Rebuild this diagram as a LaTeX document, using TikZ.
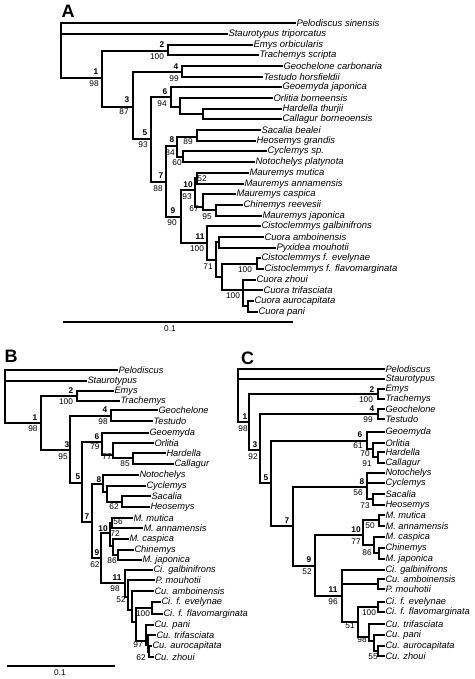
\documentclass[tikz,border=0pt]{standalone}
\usepackage{fontspec}
\setmainfont{Liberation Sans}
\begin{document}
\begin{tikzpicture}[x=1pt,y=-1pt,
  br/.style={line width=2pt,line cap=rect},
  tipa/.style={anchor=west,inner sep=1.3pt,font=\fontsize{9.5}{10}\selectfont\itshape},
  tipb/.style={anchor=west,inner sep=1.3pt,font=\fontsize{9.3}{10}\selectfont\itshape},
  bs/.style={inner sep=0pt,font=\fontsize{8.3}{9}\selectfont},
  nn/.style={inner sep=0pt,font=\fontsize{8.3}{9}\selectfont\bfseries},
  panel/.style={inner sep=0pt,font=\fontsize{18}{19}\selectfont\bfseries},
  sbar/.style={line width=1.5pt}]
\useasboundingbox (0,0) rectangle (474,679);

% ================= Panel A =================
\node[panel] (labA) at (68,11) {A};
\coordinate (rA) at (61,23.5);
\coordinate (n1A) at (102,78);
\coordinate (n2A) at (168,51);
\coordinate (n3A) at (133,107);
\coordinate (n4A) at (182,72);
\coordinate (n5A) at (151,139);
\coordinate (n6A) at (171,97);
\coordinate (n6bA) at (180,107);
\coordinate (n6cA) at (203,114);
\coordinate (n7A) at (166,182);
\coordinate (n8A) at (177,146);
\coordinate (n8aA) at (197,137);
\coordinate (n8bA) at (183,157);
\coordinate (n9A) at (181,217);
\coordinate (n10A) at (195,190);
\coordinate (n10aA) at (197,178);
\coordinate (n10bA) at (203,207);
\coordinate (n10cA) at (216,210);
\coordinate (n11A) at (207,243);
\coordinate (n11aA) at (216,260);
\coordinate (n11bA) at (219,242);
\coordinate (n11cA) at (222,277);
\coordinate (n11dA) at (257,263.5);
\coordinate (n11eA) at (243,290.3);
\coordinate (n11fA) at (248,306);

\node[tipa] (pelA) at (295,23.5) {Pelodiscus sinensis};
\node[tipa] (stauA) at (227,34.2) {Staurotypus triporcatus};
\node[tipa] (emysA) at (252,44.8) {Emys orbicularis};
\node[tipa] (trachA) at (258,55.5) {Trachemys scripta};
\node[tipa] (geochA) at (282,66.2) {Geochelone carbonaria};
\node[tipa] (testA) at (262,76.9) {Testudo horsfieldii};
\node[tipa] (geoemA) at (281,87.5) {Geoemyda japonica};
\node[tipa] (orlA) at (272,98.2) {Orlitia borneensis};
\node[tipa] (hardA) at (281,108.9) {Hardella thurjii};
\node[tipa] (callA) at (281,119.5) {Callagur borneoensis};
\node[tipa] (sacA) at (260,130.2) {Sacalia bealei};
\node[tipa] (heosA) at (255,140.9) {Heosemys grandis};
\node[tipa] (cycA) at (266,151.5) {Cyclemys sp.};
\node[tipa] (notoA) at (254,162.2) {Notochelys platynota};
\node[tipa] (mutA) at (248,172.9) {Mauremys mutica};
\node[tipa] (annA) at (243,183.6) {Mauremys annamensis};
\node[tipa] (caspA) at (235,194.2) {Mauremys caspica};
\node[tipa] (chinA) at (242,204.9) {Chinemys reevesii};
\node[tipa] (japA) at (261,215.6) {Mauremys japonica};
\node[tipa] (galbA) at (260,226.2) {Cistoclemmys galbinifrons};
\node[tipa] (ambA) at (263,236.9) {Cuora amboinensis};
\node[tipa] (pyxA) at (275,247.6) {Pyxidea mouhotii};
\node[tipa] (eveA) at (260,258.2) {Cistoclemmys f. evelynae};
\node[tipa] (flavA) at (263,268.9) {Cistoclemmys f. flavomarginata};
\node[tipa] (zhouA) at (255,279.6) {Cuora zhoui};
\node[tipa] (trifA) at (262,290.3) {Cuora trifasciata};
\node[tipa] (aurA) at (253,300.9) {Cuora aurocapitata};
\node[tipa] (paniA) at (257,311.6) {Cuora pani};

\foreach \pa/\ch in {rA/pelA.west, rA/stauA.west, rA/n1A, n1A/n2A, n2A/emysA.west, n2A/trachA.west,
  n1A/n3A, n3A/n4A, n4A/geochA.west, n4A/testA.west, n3A/n5A, n5A/n6A, n6A/geoemA.west, n6A/n6bA,
  n6bA/orlA.west, n6bA/n6cA, n6cA/hardA.west, n6cA/callA.west, n5A/n7A, n7A/n8A, n8A/n8aA,
  n8aA/sacA.west, n8aA/heosA.west, n8A/n8bA, n8bA/cycA.west, n8bA/notoA.west, n7A/n9A, n9A/n10A,
  n10A/n10aA, n10aA/mutA.west, n10aA/annA.west, n10A/n10bA, n10bA/caspA.west, n10bA/n10cA,
  n10cA/chinA.west, n10cA/japA.west, n9A/n11A, n11A/galbA.west, n11A/n11aA, n11aA/n11bA,
  n11bA/ambA.west, n11bA/pyxA.west, n11aA/n11cA, n11cA/n11dA, n11dA/eveA.west, n11dA/flavA.west,
  n11cA/n11eA, n11eA/zhouA.west, n11eA/trifA.west, n11eA/n11fA, n11fA/aurA.west, n11fA/paniA.west}
  \draw[br] (\pa) |- (\ch);

\node[nn] (kA1) at (96,72) {1};
\node[nn] (kA2) at (162,45) {2};
\node[nn] (kA3) at (127,100) {3};
\node[nn] (kA4) at (176,67) {4};
\node[nn] (kA5) at (145,133) {5};
\node[nn] (kA6) at (165,92) {6};
\node[nn] (kA7) at (161,176) {7};
\node[nn] (kA8) at (172,140) {8};
\node[nn] (kA9) at (173,211) {9};
\node[nn] (kA10) at (188,185) {10};
\node[nn] (kA11) at (200,237) {11};
\node[bs] (bA1) at (94,84) {98};
\node[bs] (bA2) at (157,57) {100};
\node[bs] (bA3) at (124,112) {87};
\node[bs] (bA4) at (174,79) {99};
\node[bs] (bA5) at (143,145) {93};
\node[bs] (bA6) at (162,104) {94};
\node[bs] (bA7) at (158,189) {88};
\node[bs] (bA8a) at (188,142) {89};
\node[bs] (bA8) at (170,153) {84};
\node[bs] (bA8b) at (177,163) {60};
\node[bs] (bA9) at (172,223) {90};
\node[bs] (bA10) at (187,197) {93};
\node[bs] (bA10a) at (202,179) {52};
\node[bs] (bA10b) at (194,209) {67};
\node[bs] (bA10c) at (207,217) {95};
\node[bs] (bA11) at (197,249) {100};
\node[bs] (bA11a) at (208,267) {71};
\node[bs] (bA11d) at (245,270) {100};
\node[bs] (bA11e) at (233,296) {100};

\coordinate (sA1) at (63,322);
\coordinate (sA2) at (293,322);
\draw[sbar] (sA1) -- (sA2);
\node[bs] (sAt) at (170,328.5) {0.1};

% ================= Panel B =================
\node[panel] (labB) at (11,356) {B};
\coordinate (rB) at (5,370);
\coordinate (n1B) at (41,423);
\coordinate (n2B) at (77,396);
\coordinate (n3B) at (70,450);
\coordinate (n4B) at (111,416);
\coordinate (n5B) at (82,483);
\coordinate (n6B) at (102,442);
\coordinate (n6bB) at (113,455);
\coordinate (n6cB) at (133,458);
\coordinate (n7B) at (92,522);
\coordinate (n8B) at (103,484);
\coordinate (n8bB) at (107,492);
\coordinate (n8cB) at (122,502);
\coordinate (n9B) at (101,558);
\coordinate (n10B) at (110,533);
\coordinate (n10aB) at (112,523);
\coordinate (n10bB) at (113,546);
\coordinate (n10cB) at (118,555);
\coordinate (n11B) at (125,583);
\coordinate (naB) at (128,597);
\coordinate (nbB) at (132,610);
\coordinate (ncB) at (136,622);
\coordinate (ndB) at (152,608);
\coordinate (neB) at (146,641);
\coordinate (nfB) at (148,645);
\coordinate (ngB) at (149,652);

\node[tipb] (pelB) at (117,370) {Pelodiscus};
\node[tipb] (stauB) at (86,381) {Staurotypus};
\node[tipb] (emysB) at (113,391) {Emys};
\node[tipb] (trachB) at (119,401) {Trachemys};
\node[tipb] (geochB) at (157,410) {Geochelone};
\node[tipb] (testB) at (152,421) {Testudo};
\node[tipb] (geoemB) at (148,433) {Geoemyda};
\node[tipb] (orlB) at (153,443) {Orlitia};
\node[tipb] (hardB) at (165,453) {Hardella};
\node[tipb] (callB) at (173,464) {Callagur};
\node[tipb] (notoB) at (138,475) {Notochelys};
\node[tipb] (cycB) at (145,486) {Cyclemys};
\node[tipb] (sacB) at (150,496) {Sacalia};
\node[tipb] (heosB) at (149,507) {Heosemys};
\node[tipb] (mutB) at (132,518) {M. mutica};
\node[tipb] (annB) at (142,528) {M. annamensis};
\node[tipb] (caspB) at (128,539) {M. caspica};
\node[tipb] (chinB) at (133,550) {Chinemys};
\node[tipb] (japB) at (141,560) {M. japonica};
\node[tipb] (galbB) at (152,570) {Ci. galbinifrons};
\node[tipb] (mouhB) at (154,580) {P. mouhotii};
\node[tipb] (ambB) at (153,591) {Cu. amboinensis};
\node[tipb] (eveB) at (160,602) {Ci. f. evelynae};
\node[tipb] (flavB) at (162,614) {Ci. f. flavomarginata};
\node[tipb] (paniB) at (153,625) {Cu. pani};
\node[tipb] (trifB) at (155,635) {Cu. trifasciata};
\node[tipb] (aurB) at (151,646) {Cu. aurocapitata};
\node[tipb] (zhouB) at (153,657) {Cu. zhoui};

\foreach \pa/\ch in {rB/pelB.west, rB/stauB.west, rB/n1B, n1B/n2B, n2B/emysB.west, n2B/trachB.west,
  n1B/n3B, n3B/n4B, n4B/geochB.west, n4B/testB.west, n3B/n5B, n5B/n6B, n6B/geoemB.west, n6B/n6bB,
  n6bB/orlB.west, n6bB/n6cB, n6cB/hardB.west, n6cB/callB.west, n5B/n7B, n7B/n8B, n8B/notoB.west,
  n8B/n8bB, n8bB/cycB.west, n8bB/n8cB, n8cB/sacB.west, n8cB/heosB.west, n7B/n9B, n9B/n10B,
  n10B/n10aB, n10aB/mutB.west, n10aB/annB.west, n10B/n10bB, n10bB/caspB.west, n10bB/n10cB,
  n10cB/chinB.west, n10cB/japB.west, n9B/n11B, n11B/galbB.west, n11B/naB, naB/mouhB.west, naB/nbB,
  nbB/ambB.west, nbB/ncB, ncB/ndB, ndB/eveB.west, ndB/flavB.west, ncB/neB, neB/paniB.west, neB/nfB,
  nfB/trifB.west, nfB/ngB, ngB/aurB.west, ngB/zhouB.west}
  \draw[br] (\pa) |- (\ch);

\node[nn] (kB1) at (35,418) {1};
\node[nn] (kB2) at (71,391) {2};
\node[nn] (kB3) at (67,445) {3};
\node[nn] (kB4) at (105,410) {4};
\node[nn] (kB5) at (78,477) {5};
\node[nn] (kB6) at (97,437) {6};
\node[nn] (kB7) at (87,517) {7};
\node[nn] (kB8) at (99,480) {8};
\node[nn] (kB9) at (97,553) {9};
\node[nn] (kB10) at (103,529) {10};
\node[nn] (kB11) at (117,578) {11};
\node[bs] (bB1) at (33,429) {98};
\node[bs] (bB2) at (66,402) {100};
\node[bs] (bB3) at (63,457) {95};
\node[bs] (bB4) at (103,422) {98};
\node[bs] (bB6) at (95,447) {79};
\node[bs] (bB6b) at (107,457) {77};
\node[bs] (bB6c) at (125,464) {85};
\node[bs] (bB8c) at (114,507) {62};
\node[bs] (bB10a) at (118,522) {56};
\node[bs] (bB10b) at (115,534) {72};
\node[bs] (bB10c) at (112,561) {86};
\node[bs] (bB9) at (95,565) {62};
\node[bs] (bB11) at (115,589) {98};
\node[bs] (bBa) at (121,600) {52};
\node[bs] (bBd) at (143,614) {100};
\node[bs] (bBe) at (138,645) {97};
\node[bs] (bBg) at (141,658) {62};

\coordinate (sB1) at (7,666);
\coordinate (sB2) at (115,666);
\draw[sbar] (sB1) -- (sB2);
\node[bs] (sBt) at (60,673) {0.1};

% ================= Panel C =================
\node[panel] (labC) at (247.5,358) {C};
\coordinate (rC) at (238,369);
\coordinate (n1C) at (249,422);
\coordinate (n2C) at (378,394);
\coordinate (n3C) at (260,450);
\coordinate (n4C) at (378,414);
\coordinate (n5C) at (271,483);
\coordinate (n6C) at (367,441);
\coordinate (n6bC) at (373,449);
\coordinate (n6cC) at (378,457);
\coordinate (n7C) at (293,526);
\coordinate (n8C) at (367,487);
\coordinate (n8bC) at (373,499);
\coordinate (n9C) at (315,566);
\coordinate (n10C) at (363,535);
\coordinate (n10aC) at (379,520);
\coordinate (n10bC) at (374,545);
\coordinate (n10cC) at (379,553);
\coordinate (n11C) at (342,596);
\coordinate (n11aC) at (378,584);
\coordinate (n11bC) at (358,622);
\coordinate (n11cC) at (378,607);
\coordinate (n11dC) at (369,637);
\coordinate (n11eC) at (374,641);
\coordinate (n11fC) at (378,651);

\node[tipb] (pelC) at (384,369) {Pelodiscus};
\node[tipb] (stauC) at (384,379) {Staurotypus};
\node[tipb] (emysC) at (384,389) {Emys};
\node[tipb] (trachC) at (384,399) {Trachemys};
\node[tipb] (geochC) at (384,409) {Geochelone};
\node[tipb] (testC) at (384,419) {Testudo};
\node[tipb] (geoemC) at (384,432) {Geoemyda};
\node[tipb] (orlC) at (384,443) {Orlitia};
\node[tipb] (hardC) at (384,452) {Hardella};
\node[tipb] (callC) at (384,463) {Callagur};
\node[tipb] (notoC) at (384,473) {Notochelys};
\node[tipb] (cycC) at (384,483) {Cyclemys};
\node[tipb] (sacC) at (384,494) {Sacalia};
\node[tipb] (heosC) at (384,505) {Heosemys};
\node[tipb] (mutC) at (384,515) {M. mutica};
\node[tipb] (annC) at (384,526) {M. annamensis};
\node[tipb] (caspC) at (384,537) {M. caspica};
\node[tipb] (chinC) at (384,548) {Chinemys};
\node[tipb] (japC) at (384,559) {M. japonica};
\node[tipb] (galbC) at (384,570) {Ci. galbinifrons};
\node[tipb] (ambC) at (384,579) {Cu. amboinensis};
\node[tipb] (mouhC) at (384,589) {P. mouhotii};
\node[tipb] (eveC) at (384,602) {Ci. f. evelynae};
\node[tipb] (flavC) at (384,612) {Ci. f. flavomarginata};
\node[tipb] (trifC) at (384,624) {Cu. trifasciata};
\node[tipb] (paniC) at (384,635) {Cu. pani};
\node[tipb] (aurC) at (384,646) {Cu. aurocapitata};
\node[tipb] (zhouC) at (384,656) {Cu. zhoui};

\foreach \pa/\ch in {rC/pelC.west, rC/stauC.west, rC/n1C, n1C/n2C, n2C/emysC.west, n2C/trachC.west,
  n1C/n3C, n3C/n4C, n4C/geochC.west, n4C/testC.west, n3C/n5C, n5C/n6C, n6C/geoemC.west, n6C/n6bC,
  n6bC/orlC.west, n6bC/n6cC, n6cC/hardC.west, n6cC/callC.west, n5C/n7C, n7C/n8C, n8C/notoC.west,
  n8C/cycC.west, n8C/n8bC, n8bC/sacC.west, n8bC/heosC.west, n7C/n9C, n9C/n10C, n10C/n10aC,
  n10aC/mutC.west, n10aC/annC.west, n10C/n10bC, n10bC/caspC.west, n10bC/n10cC, n10cC/chinC.west,
  n10cC/japC.west, n9C/n11C, n11C/galbC.west, n11C/n11aC, n11aC/ambC.west, n11aC/mouhC.west,
  n11C/n11bC, n11bC/n11cC, n11cC/eveC.west, n11cC/flavC.west, n11bC/n11dC, n11dC/trifC.west,
  n11dC/n11eC, n11eC/paniC.west, n11eC/n11fC, n11fC/aurC.west, n11fC/zhouC.west}
  \draw[br] (\pa) |- (\ch);

\node[nn] (kC1) at (245,417) {1};
\node[nn] (kC2) at (372,390) {2};
\node[nn] (kC3) at (255,445) {3};
\node[nn] (kC4) at (372,409) {4};
\node[nn] (kC5) at (266,478) {5};
\node[nn] (kC6) at (360,435) {6};
\node[nn] (kC7) at (287,521) {7};
\node[nn] (kC8) at (362,482) {8};
\node[nn] (kC9) at (309,560) {9};
\node[nn] (kC10) at (356,530) {10};
\node[nn] (kC11) at (333,590) {11};
\node[bs] (bC1) at (243,429) {98};
\node[bs] (bC2) at (366,400) {100};
\node[bs] (bC3) at (253,457) {92};
\node[bs] (bC4) at (368,420) {99};
\node[bs] (bC6) at (358,446) {61};
\node[bs] (bC6b) at (365,454) {70};
\node[bs] (bC6c) at (367,464) {91};
\node[bs] (bC8) at (358,493) {56};
\node[bs] (bC8b) at (365,506) {73};
\node[bs] (bC10a) at (370,526) {50};
\node[bs] (bC10) at (356,542) {77};
\node[bs] (bC10c) at (367,553) {86};
\node[bs] (bC9) at (307,572) {52};
\node[bs] (bC11) at (333,602) {96};
\node[bs] (bC11c) at (369,613) {100};
\node[bs] (bC11b) at (350,626) {51};
\node[bs] (bC11d) at (362,640) {98};
\node[bs] (bC11f) at (373,657) {55};
\end{tikzpicture}
\end{document}
